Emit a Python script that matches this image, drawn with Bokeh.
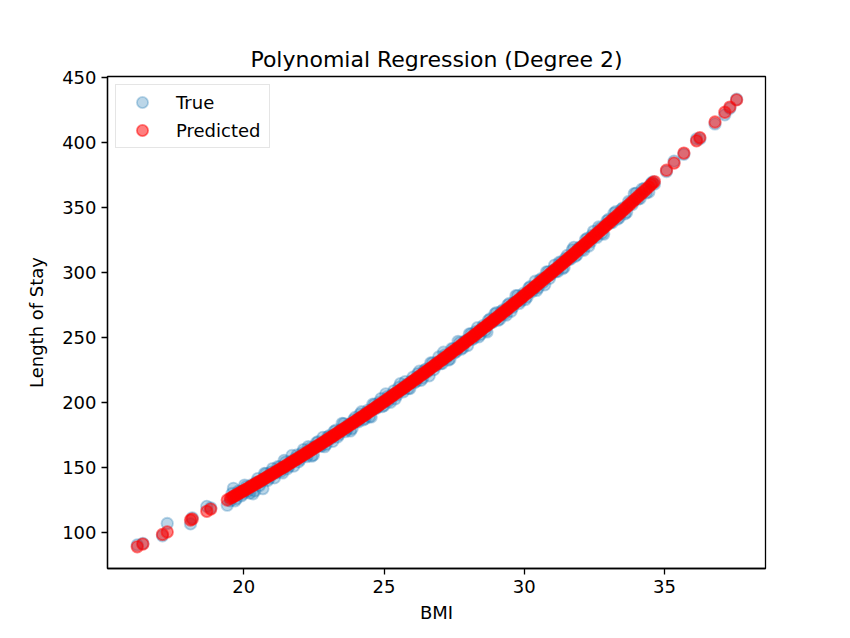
from bokeh.plotting import figure
from bokeh.models import ColumnDataSource, FixedTicker, Range1d
from bokeh.embed import file_html
from bokeh.resources import INLINE

# first reading of the test points
bmi = [16.2, 16.4, 17.1, 17.27, 18.1, 18.16, 18.68, 18.82, 19.41,
       19.52, 19.63, 19.74, 19.86, 19.97, 20.08, 20.21, 20.33, 20.44, 20.56,
       20.68, 20.79, 20.91, 21.03, 21.15, 21.27, 21.38, 21.49, 21.61, 21.72,
       21.84, 21.95, 22.07, 22.19, 22.30, 22.42, 22.53, 22.65, 22.76, 22.88,
       22.99, 23.11, 23.22, 23.34, 23.45, 23.57, 23.68, 23.80, 23.91, 24.03,
       24.14, 24.26, 24.37, 24.48, 24.60, 24.71, 24.83, 24.94, 25.06, 25.17,
       25.29, 25.40, 25.52, 25.63, 25.75, 25.86, 25.97, 26.09, 26.20, 26.32,
       26.43, 26.55, 26.66, 26.78, 26.89, 27.01, 27.12, 27.24, 27.35, 27.46,
       27.58, 27.69, 27.81, 27.92, 28.04, 28.15, 28.27, 28.38, 28.49, 28.61,
       28.72, 28.84, 28.95, 29.07, 29.18, 29.30, 29.41, 29.53, 29.64, 29.76,
       29.87, 29.98, 30.10, 30.21, 30.33, 30.44, 30.56, 30.67, 30.79, 30.90,
       31.02, 31.13, 31.25, 31.36, 31.47, 31.59, 31.71, 31.82, 31.94, 32.06,
       32.18, 32.30, 32.41, 32.53, 32.65, 32.77, 32.89, 33.01, 33.14, 33.26,
       33.39, 33.52, 33.65, 33.78, 33.92, 34.06, 34.20, 34.35, 34.52, 34.64,
       35.07, 35.34, 35.69, 36.14, 36.26, 36.80, 37.15, 37.33, 37.57]

stay_pred = [88.7, 90.8, 98.2, 100.1, 109.3, 110.0, 116.0, 117.7, 124.7,
             126.0, 127.4, 128.7, 130.2, 131.5, 132.9, 134.5, 136.0, 137.4, 138.9,
             140.4, 141.9, 143.4, 144.9, 146.5, 148.1, 149.5, 150.9, 152.5, 154.0,
             155.6, 157.0, 158.7, 160.3, 161.8, 163.4, 164.9, 166.6, 168.1, 169.7,
             171.3, 173.0, 174.5, 176.2, 177.8, 179.5, 181.0, 182.8, 184.3, 186.1,
             187.7, 189.4, 191.0, 192.7, 194.4, 196.1, 197.9, 199.5, 201.3, 203.0,
             204.8, 206.5, 208.3, 210.0, 211.8, 213.5, 215.2, 217.1, 218.8, 220.7,
             222.4, 224.3, 226.1, 228.0, 229.7, 231.7, 233.4, 235.4, 237.2, 239.0,
             240.9, 242.7, 244.7, 246.5, 248.5, 250.3, 252.3, 254.2, 256.0, 258.1,
             259.9, 262.0, 263.9, 265.9, 267.8, 269.9, 271.8, 273.9, 275.8, 277.9,
             279.8, 281.8, 283.9, 285.8, 288.0, 289.9, 292.1, 294.1, 296.2, 298.2,
             300.4, 302.4, 304.6, 306.6, 308.6, 310.9, 313.1, 315.1, 317.4, 319.6,
             321.9, 324.1, 326.2, 328.5, 330.8, 333.0, 335.3, 337.7, 340.2, 342.5,
             345.0, 347.5, 350.1, 352.6, 355.4, 358.2, 360.9, 363.9, 367.3, 369.7,
             378.4, 383.9, 391.6, 401.0, 403.5, 415.5, 423.0, 427.0, 432.5]

stay_true = [90.2, 91.3, 97.2, 106.6, 106.3, 111.0, 119.8, 118.7, 120.7,
             124.0, 133.7, 125.7, 131.2, 129.5, 134.9, 130.0, 129.5, 138.4, 135.9,
             133.4, 144.9, 141.4, 148.9, 145.5, 150.1, 145.5, 153.9, 150.5, 159.0,
             156.6, 154.0, 160.7, 159.3, 165.8, 158.4, 165.9, 169.6, 166.1, 165.7,
             173.3, 172.0, 177.5, 173.2, 178.8, 183.5, 179.0, 177.8, 186.3, 185.1,
             190.7, 186.4, 192.0, 188.7, 198.4, 195.1, 199.9, 196.5, 206.3, 201.0,
             205.8, 202.5, 211.3, 209.0, 215.8, 210.5, 216.2, 215.1, 221.8, 216.7,
             224.4, 223.3, 230.1, 225.0, 230.7, 229.7, 238.4, 234.4, 233.2, 241.0,
             238.9, 245.7, 241.7, 247.5, 252.5, 248.3, 254.3, 250.2, 257.0, 255.1,
             262.9, 261.0, 267.9, 262.9, 269.8, 267.9, 274.8, 269.9, 276.8, 281.9,
             277.8, 283.8, 280.9, 288.8, 287.0, 285.9, 294.1, 292.1, 300.2, 295.2,
             301.4, 300.4, 307.6, 302.6, 310.6, 309.9, 317.1, 312.1, 318.4, 317.6,
             324.9, 320.1, 328.2, 327.5, 334.8, 330.0, 336.3, 340.7, 338.2, 346.5,
             342.0, 349.5, 346.1, 353.6, 360.4, 356.2, 363.9, 360.9, 368.3, 367.7,
             377.4, 385.4, 390.6, 402.5, 402.5, 414.0, 421.0, 426.0, 433.0]

# second reading of the dense middle band
bmi_b = [19.58, 19.69, 19.80, 19.92, 20.03, 20.15, 20.27, 20.39, 20.50, 20.62,
         20.74, 20.85, 20.97, 21.09, 21.21, 21.33, 21.44, 21.55, 21.67, 21.78,
         21.90, 22.01, 22.13, 22.25, 22.36, 22.48, 22.59, 22.71, 22.82, 22.94,
         23.05, 23.17, 23.28, 23.40, 23.51, 23.63, 23.74, 23.86, 23.97, 24.09,
         24.20, 24.32, 24.43, 24.54, 24.66, 24.77, 24.89, 25.00, 25.12, 25.23,
         25.35, 25.46, 25.58, 25.69, 25.81, 25.92, 26.03, 26.15, 26.26, 26.38,
         26.49, 26.61, 26.72, 26.84, 26.95, 27.07, 27.18, 27.30, 27.41, 27.52,
         27.64, 27.75, 27.87, 27.98, 28.10, 28.21, 28.33, 28.44, 28.55, 28.67,
         28.78, 28.90, 29.01, 29.13, 29.24, 29.36, 29.47, 29.59, 29.70, 29.82,
         29.93, 30.04, 30.16, 30.27, 30.39, 30.50, 30.62, 30.73, 30.85, 30.96,
         31.08, 31.19, 31.31, 31.42, 31.53, 31.65, 31.77, 31.88, 32.00, 32.12,
         32.24, 32.36, 32.47, 32.59, 32.71, 32.83, 32.95, 33.08, 33.20, 33.33,
         33.46, 33.59, 33.72, 33.85, 33.99, 34.13, 34.28, 34.44, 34.58]

stay_pred_b = [126.7, 128.1, 129.5, 130.9, 132.2, 133.7, 135.3, 136.7, 138.2, 139.7,
               141.2, 142.7, 144.2, 145.7, 147.3, 148.8, 150.2, 151.7, 153.3, 154.8,
               156.3, 157.9, 159.5, 161.1, 162.6, 164.2, 165.8, 167.4, 168.9, 170.5,
               172.2, 173.8, 175.4, 177.0, 178.7, 180.3, 181.9, 183.6, 185.2, 186.9,
               188.6, 190.2, 191.9, 193.6, 195.3, 197.0, 198.7, 200.4, 202.2, 203.9,
               205.7, 207.4, 209.2, 210.9, 212.7, 214.4, 216.2, 218.0, 219.8, 221.6,
               223.4, 225.2, 227.1, 228.9, 230.7, 232.6, 234.4, 236.3, 238.1, 240.0,
               241.8, 243.7, 245.6, 247.5, 249.4, 251.3, 253.3, 255.1, 257.1, 259.0,
               261.0, 263.0, 264.9, 266.9, 268.9, 270.9, 272.9, 274.9, 276.9, 278.9,
               280.8, 282.9, 284.9, 286.9, 289.0, 291.0, 293.1, 295.2, 297.2, 299.3,
               301.4, 303.5, 305.6, 307.6, 309.8, 312.0, 314.1, 316.3, 318.5, 320.8,
               323.0, 325.2, 327.4, 329.7, 331.9, 334.2, 336.5, 339.0, 341.4, 343.8,
               346.3, 348.8, 351.4, 354.0, 356.8, 359.6, 362.4, 365.6, 368.5]

stay_true_b = [129.7, 124.1, 131.5, 127.9, 136.2, 131.7, 136.3, 131.7, 141.2, 138.7,
               145.2, 139.7, 146.2, 141.7, 150.3, 146.8, 155.2, 148.7, 154.3, 150.8,
               159.3, 155.9, 163.5, 158.1, 164.6, 159.2, 168.8, 166.4, 172.9, 167.5,
               174.2, 169.8, 178.4, 175.0, 183.7, 177.3, 182.9, 179.6, 188.2, 184.9,
               192.6, 187.2, 193.9, 188.6, 198.3, 196.0, 202.7, 197.4, 204.2, 199.9,
               208.7, 205.4, 214.2, 207.9, 213.7, 210.4, 219.2, 216.0, 223.8, 218.6,
               225.4, 220.2, 230.1, 227.9, 234.7, 229.6, 236.4, 232.3, 241.1, 238.0,
               246.8, 240.7, 246.6, 243.5, 252.4, 249.3, 257.3, 252.1, 259.1, 254.0,
               264.0, 262.0, 268.9, 263.9, 270.9, 266.9, 275.9, 272.9, 281.9, 275.9,
               281.8, 278.9, 287.9, 284.9, 293.0, 288.0, 295.1, 290.2, 300.2, 298.3,
               305.4, 300.5, 307.6, 303.6, 312.8, 310.0, 319.1, 313.3, 319.5, 316.8,
               326.0, 323.2, 331.4, 326.7, 333.9, 329.2, 339.5, 338.0, 345.4, 340.8,
               348.3, 344.8, 354.4, 352.0, 360.8, 356.6, 364.4, 361.6, 369.5]

x_ticks = [20, 25, 30, 35]
y_ticks = [100, 150, 200, 250, 300, 350, 400, 450]

FONT = "DejaVu Sans"

src = ColumnDataSource(dict(bmi=bmi + bmi_b,
                            pred=stay_pred + stay_pred_b,
                            true=stay_true + stay_true_b))

p = figure(width=842, height=630, output_backend="svg", toolbar_location=None,
           x_range=Range1d(15.14, 38.6), y_range=Range1d(72.0, 450.5),
           title="Polynomial Regression (Degree 2)")
p.frame_width = 658
p.frame_height = 492
p.min_border_left = 107
p.min_border_right = 77
p.min_border_top = 76
p.min_border_bottom = 62

p.scatter("bmi", "true", source=src, size=11.5, fill_color="#1f77b4", fill_alpha=0.3,
          line_color="#1f77b4", line_alpha=0.3, line_width=1.8, legend_label="True")
p.scatter("bmi", "pred", source=src, size=11.5, fill_color="red", fill_alpha=0.5,
          line_color="red", line_alpha=0.5, line_width=1.8, legend_label="Predicted")

p.title.text_font = FONT
p.title.text_font_size = "22px"
p.title.text_font_style = "normal"
p.title.align = "center"
p.title.text_color = "black"

p.xgrid.visible = False
p.ygrid.visible = False
p.outline_line_color = "black"
p.outline_line_width = 1.3
p.background_fill_color = "white"

for ax in (p.xaxis[0], p.yaxis[0]):
    ax.axis_line_color = "black"
    ax.axis_line_width = 1.3
    ax.major_tick_line_color = "black"
    ax.major_tick_line_width = 1.3
    ax.major_tick_out = 6
    ax.major_tick_in = 0
    ax.minor_tick_line_color = None
    ax.major_label_text_font = FONT
    ax.major_label_text_font_size = "18px"
    ax.major_label_text_color = "black"
    ax.axis_label_text_font = FONT
    ax.axis_label_text_font_size = "18px"
    ax.axis_label_text_font_style = "normal"
    ax.axis_label_text_color = "black"
    ax.major_label_standoff = 5

p.xaxis[0].ticker = FixedTicker(ticks=x_ticks)
p.yaxis[0].ticker = FixedTicker(ticks=y_ticks)
p.xaxis[0].axis_label = "BMI"
p.yaxis[0].axis_label = "Length of Stay"
p.xaxis[0].axis_label_standoff = 6
p.yaxis[0].axis_label_standoff = 12

lg = p.legend[0]
lg.location = "top_left"
lg.margin = 8
lg.padding = 3
lg.spacing = 0
lg.glyph_height = 28
lg.glyph_width = 46
lg.label_height = 28
lg.label_width = 90
lg.label_standoff = 11
lg.label_text_font = FONT
lg.label_text_font_size = "18px"
lg.label_text_color = "black"
lg.border_line_color = "#cccccc"
lg.border_line_width = 1.3
lg.background_fill_color = "white"
lg.background_fill_alpha = 0.8

open("out.html", "w").write(file_html(p, INLINE))
